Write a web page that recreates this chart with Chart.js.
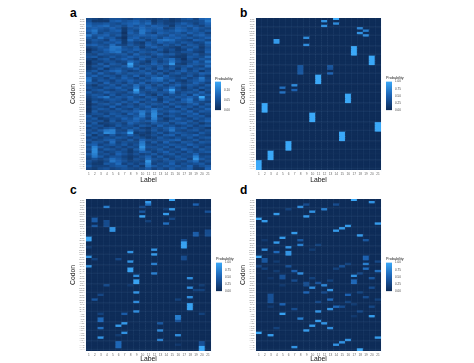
<!DOCTYPE html>
<html>
<head>
<meta charset="utf-8">
<script src="https://cdn.jsdelivr.net/npm/chart.js@4/dist/chart.umd.min.js"></script>
<style>
  html, body { margin: 0; padding: 0; background: #fff; overflow: hidden; }
  body { width: 474px; height: 363px; position: relative; font-family: "Liberation Sans", sans-serif; }
  canvas { position: absolute; }
  .tag { position: absolute; font-size: 12px; font-weight: bold; line-height: 12px; color: #000; }
</style>
</head>
<body>
<div class="tag" style="left:70px;top:7px">a</div>
<div class="tag" style="left:240px;top:7px">b</div>
<div class="tag" style="left:70px;top:184px">c</div>
<div class="tag" style="left:240px;top:184px">d</div>

<canvas id="heatA" width="143" height="168" style="left:69px;top:16px"></canvas>
<canvas id="heatB" width="143" height="168" style="left:239px;top:16px"></canvas>
<canvas id="heatC" width="143" height="166" style="left:69px;top:197px"></canvas>
<canvas id="heatD" width="143" height="166" style="left:239px;top:197px"></canvas>
<canvas id="barA" width="20" height="40" style="left:215px;top:74px"></canvas>
<canvas id="barB" width="20" height="40" style="left:386px;top:74px"></canvas>
<canvas id="barC" width="20" height="40" style="left:216px;top:255px"></canvas>
<canvas id="barD" width="20" height="40" style="left:386px;top:255px"></canvas>

<script>
const labels = ['1','2','3','4','5','6','7','8','9','10','11','12','13','14','15','16','17','18','19','20','21'];
const codons = [
  'AAA','AAC','AAG','AAT','ACA','ACC','ACG','ACT','AGA','AGC','AGG','AGT','ATA','ATC','ATG','ATT',
  'CAA','CAC','CAG','CAT','CCA','CCC','CCG','CCT','CGA','CGC','CGG','CGT','CTA','CTC','CTG','CTT',
  'GAA','GAC','GAG','GAT','GCA','GCC','GCG','GCT','GGA','GGC','GGG','GGT','GTA','GTC','GTG','GTT',
  'TAA','TAC','TAG','TAT','TCA','TCC','TCG','TCT','TGA','TGC','TGG','TGT','TTA','TTC','TTG','TTT'
];

// panel a, percent, one line per codon from the top row down
const panelA = [
  [4,3,2,3,5,5,4,3,5,4,3,2,3,4,2,3,5,6,3,7,8],
  [5,2,2,2,6,7,5,6,7,5,6,2,4,3,2,3,4,4,4,5,9],
  [7,5,5,6,5,4,6,7,8,6,8,3,5,3,3,5,7,5,3,5,7],
  [8,6,7,8,5,6,4,7,5,7,5,7,6,5,2,6,5,7,5,3,6],
  [6,7,6,5,7,5,2,5,6,8,6,6,7,3,4,7,6,4,7,5,4],
  [7,9,5,4,6,7,2,6,4,9,7,5,6,5,6,8,7,5,6,4,6],
  [5,8,4,6,5,5,1,7,5,9,5,3,7,6,5,6,4,7,5,6,3],
  [9,5,6,7,4,6,2,5,6,7,6,7,5,4,7,5,6,3,6,7,5],
  [6,4,8,5,6,3,1,6,7,4,5,6,4,7,6,7,5,6,4,5,7],
  [4,6,5,3,7,5,2,8,5,6,3,5,8,9,8,5,4,3,7,6,4],
  [3,5,4,6,5,7,2,5,3,2,6,4,7,5,6,4,6,5,3,4,8],
  [6,7,5,4,8,4,3,6,4,3,7,5,3,6,4,6,3,6,5,3,6],
  [3,4,6,5,9,9,5,4,6,2,5,7,5,4,3,2,5,4,6,2,5],
  [1,3,5,7,9,8,6,5,7,5,4,3,6,3,5,2,3,7,4,3,6],
  [2,5,4,6,8,9,4,6,4,6,5,6,4,2,4,3,5,5,3,2,7],
  [4,3,6,5,4,5,6,3,7,4,3,5,7,5,6,3,2,4,6,3,4],
  [5,6,3,4,6,4,5,7,5,6,6,3,5,4,3,2,2,6,5,4,8],
  [3,2,5,6,3,5,7,5,3,7,4,5,4,6,8,4,1,5,3,6,5],
  [1,4,3,5,5,3,4,8,6,4,2,6,3,5,9,5,3,4,7,4,9],
  [1,3,6,3,6,5,3,13,5,3,4,7,5,6,12,3,2,5,6,5,6],
  [2,5,4,7,4,4,6,11,4,6,5,4,6,3,5,4,5,7,4,3,8],
  [2,3,6,2,5,6,4,5,7,3,6,3,7,4,6,2,6,3,5,6,4],
  [4,6,3,5,7,8,5,3,4,6,4,5,3,5,3,5,7,4,6,2,5],
  [6,3,7,4,3,6,4,6,5,5,7,3,6,2,5,6,3,5,4,7,6],
  [5,7,4,6,5,3,6,4,7,3,5,6,4,7,4,3,4,6,3,5,3],
  [8,4,5,3,6,4,7,5,3,6,4,8,9,6,5,4,6,3,5,9,4],
  [9,3,6,5,3,6,5,7,5,4,6,7,8,4,7,3,2,5,6,8,5],
  [6,5,3,7,4,5,3,6,4,7,3,5,4,6,3,5,3,4,7,5,3],
  [4,2,5,4,6,3,6,4,8,5,6,3,6,3,5,7,4,6,5,3,6],
  [5,4,3,6,5,7,4,5,9,3,7,5,4,5,8,4,2,5,3,6,4],
  [3,5,6,4,3,5,6,3,13,4,5,6,3,7,13,5,3,4,6,2,5],
  [6,3,4,7,5,4,3,6,10,5,3,4,5,5,9,3,5,6,4,7,3],
  [4,6,5,3,6,3,5,4,5,7,4,2,6,3,5,4,6,3,8,5,6],
  [3,5,7,9,4,6,5,7,4,3,6,5,3,6,4,6,5,7,5,14,4],
  [2,4,3,5,6,5,3,6,5,6,4,7,2,5,6,3,7,9,4,9,5],
  [1,6,4,3,5,4,6,4,7,3,5,4,3,7,4,5,6,8,5,4,3],
  [1,3,5,6,4,7,3,5,3,6,4,6,5,3,6,4,3,5,7,3,6],
  [2,5,4,3,7,3,5,6,4,5,7,3,4,6,3,7,5,6,3,6,4],
  [1,4,6,5,3,6,4,3,6,4,5,8,6,4,5,3,6,3,5,4,7],
  [1,6,3,4,5,4,6,5,7,9,6,10,4,5,7,6,4,7,3,6,5],
  [3,5,5,3,6,5,3,7,5,10,4,11,6,3,5,4,6,5,7,3,4],
  [6,3,4,6,4,6,5,4,6,9,5,11,3,5,6,4,3,6,5,6,3],
  [4,6,2,3,5,4,7,5,8,6,3,10,5,2,4,7,5,3,6,4,6],
  [5,4,5,2,6,3,5,6,7,5,6,8,4,3,6,5,4,6,3,5,7],
  [3,6,2,3,4,5,3,7,5,4,3,6,5,6,3,6,7,4,5,2,4],
  [6,4,5,2,3,6,4,5,3,6,5,3,7,4,5,3,4,6,3,5,6],
  [3,5,3,5,6,3,5,4,6,3,2,5,4,6,8,5,6,3,5,4,2],
  [5,3,6,9,10,4,3,8,4,5,3,6,3,5,9,4,3,5,6,3,5],
  [4,6,4,11,10,5,6,13,2,3,2,4,6,3,5,6,5,4,3,6,4],
  [6,2,5,3,6,3,4,7,4,2,3,5,3,6,7,3,6,5,7,4,3],
  [3,5,3,5,4,6,5,3,5,4,2,3,6,4,3,5,4,6,3,5,6],
  [5,3,4,6,7,4,3,6,3,7,5,4,5,5,6,7,3,4,6,3,4],
  [3,6,5,3,8,3,5,4,4,9,3,6,3,7,4,3,6,5,3,6,5],
  [6,7,3,5,6,4,6,3,5,10,4,3,5,4,6,5,4,7,5,4,3],
  [4,10,6,4,3,5,3,5,4,12,5,5,4,6,3,6,5,3,6,3,5],
  [5,11,3,6,5,3,5,2,6,10,3,4,6,3,5,3,7,5,3,6,4],
  [3,11,5,3,4,6,4,2,4,7,6,3,5,7,4,5,3,6,4,5,6],
  [6,10,4,5,3,7,5,3,5,3,4,6,3,5,6,3,5,4,7,3,3],
  [4,9,6,3,5,5,3,2,3,5,7,3,6,3,4,6,4,5,10,4,5],
  [3,5,3,5,8,6,4,2,5,4,8,5,4,6,3,5,6,3,12,6,4],
  [5,3,2,4,9,7,5,3,4,3,12,4,3,5,6,4,3,6,8,3,5],
  [4,2,2,6,5,8,3,5,3,5,10,3,5,4,7,3,5,4,5,6,3],
  [6,3,3,3,5,6,6,3,5,2,9,6,4,6,5,6,4,7,3,5,6],
  [3,2,4,5,3,4,5,4,3,4,6,3,5,3,6,4,5,6,2,2,7]
];

// panels b, c, d: [label, first row, last row, probability], rows counted from the top
const panelB = [
  [12,1,1,.85],[12,3,3,.85],[14,0,0,1],[14,2,2,.8],[18,4,4,.75],[18,6,6,.85],[19,5,5,.7],[19,7,7,.8],
  [4,9,10,.9],[9,8,8,.8],[9,11,11,.8],[17,12,15,1],[20,16,19,1],
  [8,20,23,.4],[13,20,20,.4],[13,21,21,.35],[13,23,23,.5],[11,24,27,1],
  [5,29,29,.6],[5,31,31,.6],[7,28,28,.8],[7,30,30,.5],[16,32,35,1],[2,36,39,1],[10,40,43,1],
  [21,44,47,1],[15,48,51,1],[6,52,55,1],[3,56,59,1],[1,60,63,1]
];
const panelC = [
  [15,0,0,1],[15,4,4,.9],[11,1,1,.9],[11,2,2,.6],[19,2,2,.5],[4,3,3,.7],[10,3,3,.25],[10,5,5,.4],[10,7,7,.95],
  [21,5,5,.35],[14,6,6,.9],[14,10,10,.6],[14,4,4,.15],[15,8,8,.25],[2,8,9,.45],[2,11,11,.4],[4,9,11,.3],
  [5,12,13,.85],[11,9,9,.2],[19,14,15,.45],[21,13,15,.3],[1,16,17,.95],[17,17,17,.3],[17,18,20,.95],
  [8,22,22,.85],[8,26,26,.85],[8,29,30,.95],[12,21,21,.85],[12,23,23,.9],[12,27,27,.7],[12,31,31,.7],
  [1,20,20,.15],[1,24,24,.85],[1,28,28,.85],[2,25,25,.2],[6,25,25,.25],[17,24,25,.3],
  [9,32,32,.8],[9,34,35,.95],[9,39,39,.85],[9,43,43,.8],[9,47,47,.8],
  [18,33,33,.8],[18,37,37,.8],[18,41,41,.8],[18,44,46,.95],
  [4,36,36,.3],[20,36,36,.15],[19,38,38,.2],[20,38,38,.2],[8,36,36,.12],[3,40,40,.25],[2,42,42,.4],
  [16,42,42,.2],[16,49,50,.7],[16,51,51,.35],[16,57,57,.8],[16,61,61,.12],[20,48,48,.2],
  [3,48,48,.2],[3,50,51,.55],[3,54,54,.6],[3,58,58,.85],[7,48,48,.45],[7,52,52,.9],[7,56,56,.85],
  [6,53,53,.9],[6,57,57,.15],[6,60,62,.55],[13,52,52,.4],[13,55,55,.75],[13,59,59,.7],
  [20,60,61,.35],[20,62,63,1]
];
const panelD = [
  [17,0,0,1],[20,1,1,.85],[9,2,2,.3],[14,2,2,.3],[8,3,3,.8],[6,4,4,.2],[12,4,4,.7],[10,5,5,.85],[4,6,6,.9],
  [9,7,7,.9],[1,8,8,1],[2,9,9,.9],[21,10,10,.9],[16,11,11,.9],[15,12,12,.9],[14,13,13,.9],[7,14,14,.9],
  [18,15,15,.9],[5,16,16,.9],[2,17,17,.12],[8,17,17,.4],[19,17,17,.4],[4,18,18,.9],[8,19,19,.7],[11,19,19,.2],
  [6,20,20,.85],[2,21,21,.8],[10,21,21,.15],[4,22,22,.55],[6,22,23,.85],[1,24,24,.95],[19,24,25,.5],
  [19,27,27,.7],[19,29,29,.6],[2,25,26,.4],[4,26,26,.15],[21,26,26,.25],[16,27,27,.2],[1,28,28,.25],
  [6,28,28,.35],[15,28,28,.35],[2,29,29,.2],[14,29,29,.2],[4,30,30,.15],[7,30,30,.5],[21,30,30,.6],
  [8,31,31,.8],[18,31,31,.25],[17,32,32,.85],[5,32,33,.35],[20,33,33,.4],[10,33,33,.2],[3,33,33,.1],
  [7,34,34,.3],[13,34,34,.2],[17,34,35,.55],[11,35,35,.35],[9,35,36,.3],[12,36,36,.75],[5,36,36,.12],
  [10,37,37,.8],[20,37,37,.3],[13,38,38,.85],[9,39,39,.5],[12,39,39,.25],[18,39,39,.2],[16,40,40,.5],
  [3,40,43,.35],[19,41,41,.3],[13,42,42,.55],[21,42,42,.2],[11,43,43,.25],[16,43,43,.2],[5,44,44,.5],
  [17,44,44,.15],[14,45,45,.55],[15,45,45,.3],[20,45,45,.25],[3,45,45,.12],[7,46,46,.3],[13,46,46,.85],
  [11,47,47,.85],[18,47,47,.25],[5,48,48,.95],[20,49,49,.9],[17,49,49,.12],[8,50,50,.7],[11,51,51,.9],
  [12,52,52,.85],[10,53,53,.9],[13,54,54,.8],[4,54,54,.2],[9,55,55,.9],[1,56,56,1],[3,57,57,.9],
  [21,58,58,.9],[16,59,59,.85],[15,60,60,.85],[14,61,61,.85],[7,62,62,.85],[18,63,63,1]
];

const ticksA = [0, 0.05, 0.10];
const ticksRest = [0, 0.25, 0.5, 0.75, 1];
const lowColor = [14, 44, 88];
const midColor = [27, 96, 176];
const highColor = [58, 168, 248];

function shade(t) {
  t = Math.max(0, Math.min(1, t));
  const a = t < 0.5 ? lowColor : midColor;
  const b = t < 0.5 ? midColor : highColor;
  const k = t < 0.5 ? t * 2 : (t - 0.5) * 2;
  const c = a.map((v, i) => Math.round(v + (b[i] - v) * k));
  return `rgb(${c[0]},${c[1]},${c[2]})`;
}

function fromCells(cells) {
  const rows = codons.map(() => labels.map(() => 0));
  cells.forEach(([label, first, last, p]) => {
    for (let r = first; r <= last; r++) rows[r][label - 1] = p;
  });
  return rows;
}

function drawHeatmap(id, rows, top, gridAlpha, bottomSpace) {
  // stack index 0 is the bottom row of the picture
  const datasets = codons.map((codon, i) => ({
    label: codon,
    data: labels.map(() => 1),
    backgroundColor: rows[codons.length - 1 - i].map((v) => shade(v / top))
  }));
  new Chart(document.getElementById(id), {
    type: 'bar',
    data: { labels, datasets },
    options: {
      responsive: false,
      animation: false,
      layout: { padding: { top: 0.5, right: 1 } },
      datasets: { bar: { barPercentage: 1, categoryPercentage: 1 } },
      plugins: { legend: { display: false }, tooltip: { enabled: false } },
      scales: {
        x: {
          stacked: true,
          border: { display: false },
          grid: { z: 1, color: `rgba(130,180,230,${gridAlpha})`, lineWidth: 0.6, tickLength: 1.5 },
          ticks: { color: '#666', font: { size: 3.2 }, maxRotation: 0, padding: 1, autoSkip: false },
          title: { display: true, text: 'Label', color: '#111', font: { size: 6.8, family: 'Liberation Sans' }, padding: 0 },
          afterFit: (scale) => { scale.height = bottomSpace; }
        },
        y: {
          stacked: true,
          min: 0,
          max: codons.length,
          border: { display: false },
          afterBuildTicks: (scale) => { scale.ticks = codons.map((c, i) => ({ value: i + 0.5 })); },
          grid: {
            z: 1,
            lineWidth: 0.6,
            tickLength: 1,
            color: (ctx) => (ctx.index % 4 === 0 ? `rgba(130,180,230,${gridAlpha})` : 'rgba(0,0,0,0)')
          },
          ticks: {
            color: '#777',
            font: { size: 2.4 },
            padding: 0.5,
            autoSkip: false,
            callback: (v) => codons[v - 0.5]
          },
          title: { display: true, text: 'Codon', color: '#111', font: { size: 6.8, family: 'Liberation Sans' }, padding: 0 },
          afterFit: (scale) => { scale.width = 17; }
        }
      }
    }
  });
}

function drawColorBar(id, top, tickValues, titleTop) {
  new Chart(document.getElementById(id), {
    type: 'bar',
    data: {
      labels: ['Probability'],
      datasets: [{
        data: [[0, top]],
        barPercentage: 1,
        categoryPercentage: 1,
        backgroundColor: (ctx) => {
          const area = ctx.chart.chartArea;
          if (!area) return shade(0.5);
          const g = ctx.chart.ctx.createLinearGradient(0, area.bottom, 0, area.top);
          [0, 0.25, 0.5, 0.75, 1].forEach((s) => g.addColorStop(s, shade(s)));
          return g;
        }
      }]
    },
    options: {
      responsive: false,
      animation: false,
      layout: { padding: { top: 0, bottom: 1 } },
      plugins: {
        legend: { display: false },
        tooltip: { enabled: false },
        title: { display: true, text: 'Probability', align: 'start', color: '#222', font: { size: 3.8, weight: 'normal' }, padding: { top: titleTop, bottom: 3 - titleTop } }
      },
      scales: {
        x: { display: false },
        y: {
          position: 'right',
          min: 0,
          max: top,
          border: { display: false },
          grid: { display: false, tickLength: 1 },
          afterBuildTicks: (scale) => { scale.ticks = tickValues.map((v) => ({ value: v })); },
          ticks: { color: '#444', font: { size: 3 }, padding: 2, callback: (v) => v.toFixed(2) },
          afterFit: (scale) => { scale.width = 14; }
        }
      }
    }
  });
}

drawHeatmap('heatA', panelA.map((row) => row.map((v) => v / 100)), 0.14, 0.05, 14);
drawHeatmap('heatB', fromCells(panelB), 1, 0.1, 14);
drawHeatmap('heatC', fromCells(panelC), 1, 0.1, 12);
drawHeatmap('heatD', fromCells(panelD), 1, 0.1, 12);

drawColorBar('barA', 0.14, ticksA, 3);
drawColorBar('barB', 1, ticksRest, 2);
drawColorBar('barC', 1, ticksRest, 2);
drawColorBar('barD', 1, ticksRest, 2);
</script>
</body>
</html>
